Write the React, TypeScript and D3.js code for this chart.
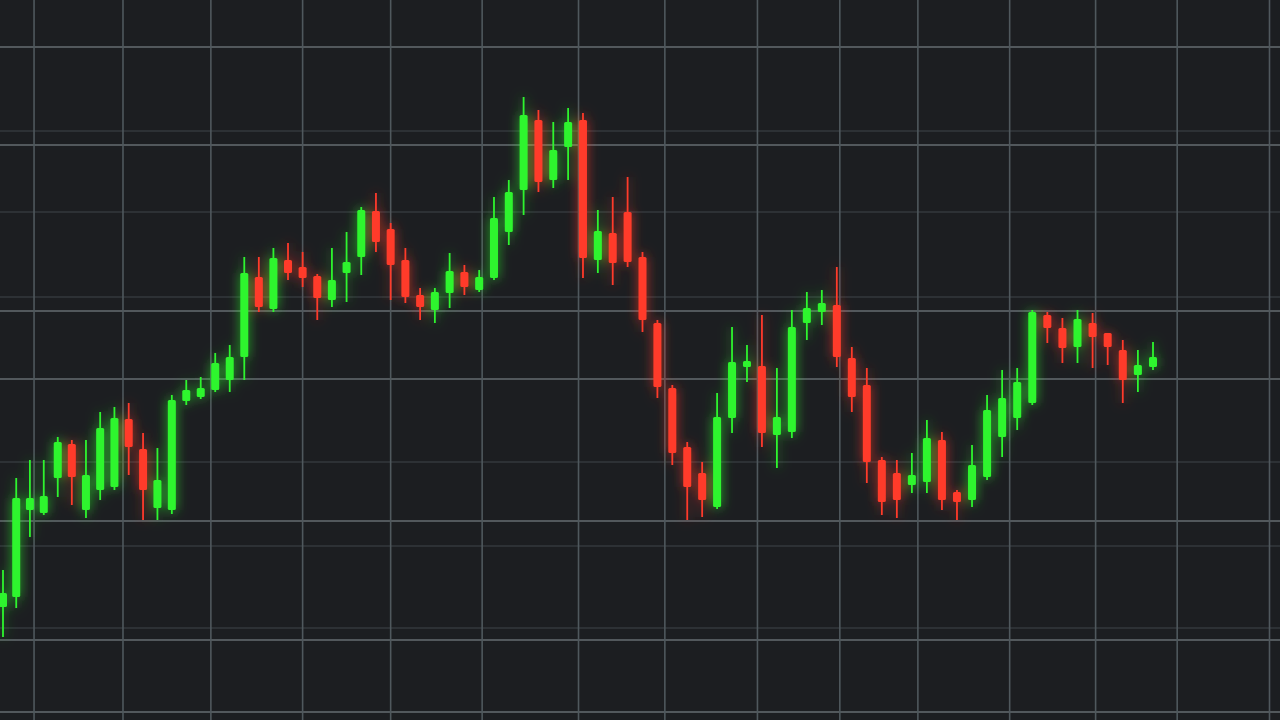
import React from 'react';
import * as d3 from 'd3';

// OHLC series (price units), one entry per candle, left to right
const opens = [118.25,120.75,142.5,141.75,150.5,159,142.5,147.5,148.25,165.25,157.75,143,142.5,169.75,170.75,172.5,175,180.75,200.75,192.75,205,203.25,201,195,201.75,205.75,217.25,212.75,205,196.25,192.5,196.75,202,197.5,200.5,212,222.5,240,225,233.25,240,205,211.75,217,205.75,189.25,173,158.25,151.75,143.25,165.5,178.25,178.5,161.25,162,189.25,192,193.75,180.5,173.75,155,151.75,148.75,149.5,160,147,145,150.75,160.75,165.5,169.25,191.25,188,183.25,189.25,186.75,182.5,176.25,178.25];
const highs = [127.5,150.5,155,155,160.75,160,160,167,168.25,169.25,161.75,158,171.25,175,175.75,181.75,183.75,205.75,205.75,208,209.25,207,201.5,208,212,218.25,221.75,214.25,208,198,198,206.75,203.75,202.5,220.75,225,245.75,242.5,239.5,243,241.75,217.5,220.75,225.75,207,190,173.75,159.5,154.5,171.75,188.25,183.75,191.25,178,192.5,197,197.5,203.25,183.25,178,155.75,155,156.75,165,162,147.5,158.75,171.25,177.5,178,192.5,192,190.5,192.5,191.75,186.75,185,182.5,184.5];
const lows = [110.75,118,135.75,141.25,145.75,143.75,140.5,145,147.5,151.25,140,140,141.5,168.75,170.25,172,172,175,192,192,200,198.25,190,193.25,194.5,201.25,207,195,194.25,190,189.25,193,196.25,197,200,208.75,216.25,222,223,225,200.5,201.75,198.75,203.25,187,170.5,153.75,140,140.75,142.75,161.75,174.5,158.25,153,160.5,185,188.75,178.25,167,149.25,141.25,140.5,146.75,146.75,142.5,140,143.25,150,155.75,162.5,168.75,184.25,179.25,179.25,178,178.75,169.25,172,177.5];
const closes = [121.75,145.5,145.5,146,159.5,150.75,151.25,163,165.5,158.25,147.5,150,170,172.5,173,179.25,180.75,201.75,193.25,205.5,201.75,200.5,195.5,200,204.5,217.5,209.5,203.75,195.75,193.25,197,202.25,198.25,200.75,215.5,222,241.25,224.5,232.5,239.5,205.5,212.25,204.25,204.5,190,173.25,156.75,148.25,145,165.75,179.5,179.75,161.75,165.75,188.25,193,194.25,180.75,170.75,154.5,144.5,145,151.25,160.5,145,144.5,153.75,167.5,170.5,174.5,192,188,183,190.25,185.75,183.25,175,178.75,180.75];

// grid positions (time index units / price units)
const timeGrid = [2.3,8.6,14.7,21.0,27.0,33.2,39.7,45.5,51.7,57.2,62.4,68.5,74.2,79.6,85.7];
const priceGridMajor = [258.25,233.75,192.25,175.25,139.75,110,92];
const priceGridMinor = [237.25,217,195.75,154.5,133.5,113];

const W = 1280;
const H = 720;

export default function App() {
  const n = opens.length;
  const x = d3.scalePow().exponent(1.025).domain([0, n - 1]).range([3, 1153]);
  const y = d3.scaleLinear().domain([90, 270]).range([H, 0]);
  const bodyW = 8;
  const green = '#2df52d';
  const red = '#ff3a2a';

  return (
    <svg width={W} height={H} style={{ position: 'fixed', left: 0, top: 0, display: 'block' }}>
      <defs>
        <filter id="glow" x="-50%" y="-50%" width="200%" height="200%">
          <feGaussianBlur in="SourceGraphic" stdDeviation="6" result="blur" />
          <feColorMatrix in="blur" type="matrix" values="1 0 0 0 0  0 1 0 0 0  0 0 1 0 0  0 0 0 0.7 0" result="soft" />
          <feMerge>
            <feMergeNode in="soft" />
            <feMergeNode in="SourceGraphic" />
          </feMerge>
        </filter>
      </defs>
      <rect x={0} y={0} width={W} height={H} fill="#1c1e21" />
      <g>
        {priceGridMinor.map((p, i) => (
          <line key={'pm' + i} x1={0} x2={W} y1={y(p)} y2={y(p)} stroke="#33383c" strokeWidth={1.3} />
        ))}
        {priceGridMajor.map((p, i) => (
          <line key={'pM' + i} x1={0} x2={W} y1={y(p)} y2={y(p)} stroke="#656c71" strokeWidth={1.6} />
        ))}
        {timeGrid.map((t, i) => (
          <line key={'t' + i} x1={x(t)} x2={x(t)} y1={0} y2={H} stroke="#4f585d" strokeWidth={1.6} />
        ))}
      </g>
      <g filter="url(#glow)">
        {opens.map((o, i) => {
          const c = closes[i];
          const up = c >= o;
          const col = up ? green : red;
          const cx = x(i);
          const top = y(Math.max(o, c));
          const bot = y(Math.min(o, c));
          return (
            <g key={i}>
              <line x1={cx} x2={cx} y1={y(highs[i])} y2={y(lows[i])} stroke={col} strokeWidth={1.8} />
              <rect x={cx - bodyW / 2} y={top} width={bodyW} height={Math.max(2, bot - top)} rx={1.5} fill={col} />
            </g>
          );
        })}
      </g>
    </svg>
  );
}
